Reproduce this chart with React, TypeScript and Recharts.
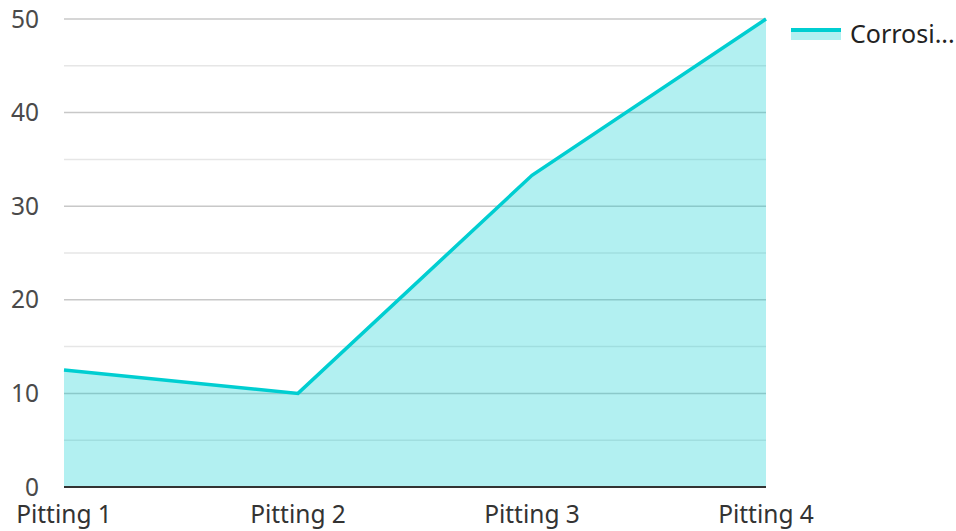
import React from "react";
import { AreaChart, Area, XAxis, YAxis, CartesianGrid } from "recharts";

const categories = ["Pitting 1", "Pitting 2", "Pitting 3", "Pitting 4"];
const corrosionValues = [12.5, 10, 33.3, 50];
const majorTicks = [0, 10, 20, 30, 40, 50];
const minorTicks = [5, 15, 25, 35, 45];
const seriesName = "Corrosi...";

const chartData = categories.map((name, i) => ({ name, value: corrosionValues[i] }));

const LINE = "#00CED1";
const FONT = "'Noto Sans', 'Open Sans', sans-serif";

export default function App() {
  return (
    <div style={{ position: "relative", width: 956, height: 531, fontFamily: FONT }}>
      <style>{`body { margin: 0; }`}</style>
      <AreaChart
        width={956}
        height={531}
        data={chartData}
        margin={{ top: 19, right: 190, left: 0, bottom: 0 }}
      >
        <CartesianGrid
          vertical={false}
          stroke="#e6e6e6"
          strokeWidth={1.5}
          horizontalValues={minorTicks}
        />
        <CartesianGrid
          vertical={false}
          stroke="#c8c8c8"
          strokeWidth={1.5}
          horizontalValues={majorTicks}
        />
        <XAxis
          dataKey="name"
          height={44}
          tickLine={false}
          tickMargin={13}
          axisLine={{ stroke: "#333", strokeWidth: 2 }}
          tick={{ fontSize: 24.5, fill: "#333", fontFamily: FONT }}
          interval={0}
        />
        <YAxis
          width={64}
          domain={[0, 50]}
          ticks={majorTicks}
          axisLine={false}
          tickLine={false}
          tickMargin={19}
          tick={{ fontSize: 24.5, fill: "#4a4a4a", fontFamily: FONT }}
        />
        <Area
          type="linear"
          dataKey="value"
          name={seriesName}
          stroke={LINE}
          strokeWidth={3.5}
          fill={LINE}
          fillOpacity={0.3}
          isAnimationActive={false}
          dot={false}
          activeDot={false}
        />
      </AreaChart>
      <div
        style={{
          position: "absolute",
          left: 791,
          top: 16,
          display: "flex",
          alignItems: "center",
          fontSize: 25,
          color: "#222",
        }}
      >
        <svg width={50} height={14} style={{ marginRight: 9 }}>
          <rect x={0} y={4} width={50} height={10} fill={LINE} fillOpacity={0.3} />
          <line x1={0} x2={50} y1={4} y2={4} stroke={LINE} strokeWidth={4} />
        </svg>
        <span>{seriesName}</span>
      </div>
    </div>
  );
}
